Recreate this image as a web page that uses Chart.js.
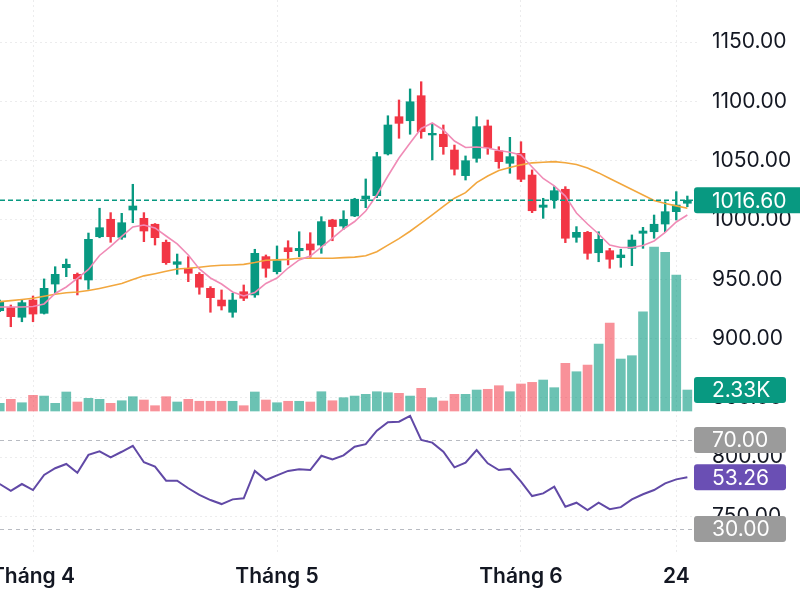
<!DOCTYPE html>
<html><head><meta charset="utf-8">
<script src="https://cdn.jsdelivr.net/npm/chart.js@4.4.1/dist/chart.umd.min.js"></script>
<style>html,body{margin:0;padding:0;background:#fff;}canvas{display:block}</style>
</head><body>
<canvas id="c" width="800" height="600"></canvas>
<script>
const openP = [923.5,926.1,918.0,932.5,921.3,946.0,959.8,954.2,949.4,985.9,
1000.6,985.4,1008.4,1001.4,996.4,981.2,962.6,959.3,954.2,942.4,
932.5,922.2,939.5,936.8,969.1,956.4,976.6,974.1,979.8,978.9,
1000.0,994.9,1003.4,1017.7,1020.5,1055.7,1087.1,1083.7,1104.8,1071.7,
1072.3,1059.0,1037.4,1052.0,1079.3,1058.2,1047.8,1056.2,1037.9,1010.7,
1016.9,1025.9,985.4,989.6,972.4,974.1,968.2,976.1,988.8,990.1,
996.6,1007.0,1014.1];
const highP = [932.5,928.3,932.5,935.9,950.3,960.6,967.1,955.3,989.0,1009.9,
1006.2,1005.6,1030.1,1006.2,997.0,983.1,971.3,969.1,955.6,943.8,
941.0,938.2,945.2,975.3,970.5,978.1,982.5,990.1,989.3,1002.8,
1000.6,1007.8,1018.3,1034.6,1057.1,1087.9,1101.2,1110.5,1116.6,1081.5,
1080.1,1063.2,1054.0,1087.1,1084.3,1061.8,1069.7,1066.0,1042.2,1018.3,
1028.1,1028.1,994.4,990.4,990.1,976.1,975.3,987.4,993.8,1004.2,
1015.4,1023.9,1020.2];
const lowP = [922.7,910.0,914.2,914.2,920.7,938.2,952.2,936.8,941.6,985.0,
981.2,983.7,997.7,981.7,978.9,962.6,954.2,948.0,937.4,922.2,
924.1,918.0,932.0,934.8,951.7,954.5,962.1,969.1,968.5,971.9,
982.5,992.2,1002.8,1010.4,1018.8,1054.8,1068.9,1072.3,1068.9,1050.6,
1055.4,1037.9,1033.7,1048.7,1055.4,1043.6,1039.4,1032.3,1006.2,1001.4,
1009.9,980.9,981.2,966.9,964.8,959.3,960.1,961.5,976.1,984.6,
990.1,1000.0,1011.2];
const closeP = [931.1,918.5,930.3,920.7,942.4,954.2,962.6,950.3,983.7,993.5,
985.9,997.7,1011.8,990.7,985.1,964.0,964.8,955.1,943.3,934.5,
927.5,932.5,934.0,971.9,959.3,965.7,973.3,976.1,974.7,998.6,
994.4,1000.6,1017.5,1020.2,1053.4,1080.1,1081.5,1099.7,1074.5,1073.1,
1061.8,1042.8,1050.0,1078.7,1061.0,1049.2,1053.4,1034.3,1007.8,1012.6,
1024.7,984.6,989.6,971.9,983.7,966.9,970.5,983.1,990.7,996.4,
1007.0,1012.6,1016.6];
const volumeK = [0.85,1.30,0.92,1.74,1.66,0.85,2.11,1.00,1.41,1.30,
0.85,1.14,1.59,1.22,0.59,1.59,1.00,1.30,1.08,1.08,
1.08,1.08,0.59,2.11,1.22,0.92,1.08,1.08,1.00,2.14,
1.14,1.48,1.66,1.85,2.14,2.03,1.96,1.66,2.52,1.48,
1.11,1.85,1.85,2.33,2.41,2.81,2.14,3.00,3.18,3.44,
2.59,5.29,4.36,5.10,7.43,9.77,5.77,6.14,11.0,18.2,
17.6,15.1,2.33];
const maFast = [926.6,926.6,926.6,927.1,929.2,938.0,943.5,950.7,958.3,970.1,
977.7,986.1,994.1,995.8,993.3,986.5,979.8,970.5,958.7,951.1,
946.0,939.3,935.9,938.9,946.5,951.1,959.5,966.3,969.6,977.2,
984.8,992.4,998.7,1007.6,1021.1,1037.1,1052.3,1064.9,1077.2,1081.8,
1075.9,1066.6,1061.1,1061.6,1060.7,1058.6,1057.1,1054.8,1044.7,1035.0,
1028.7,1020.2,1005.9,996.6,988.2,978.9,976.8,976.8,978.5,982.3,
989.5,998.3,1004.2];
const maSlow = [931.1,932.0,933.0,934.0,935.7,937.4,938.7,939.3,940.5,942.3,
944.3,946.4,949.8,952.9,954.7,956.7,958.7,959.3,960.2,961.2,
961.8,962.1,962.6,964.2,966.1,966.4,966.8,967.7,967.7,967.7,
967.8,968.3,968.7,969.9,973.3,978.8,984.3,990.5,997.3,1004.3,
1011.4,1018.4,1023.1,1031.5,1037.1,1041.7,1044.3,1046.5,1048.2,1048.7,
1049.2,1048.3,1046.8,1043.8,1039.7,1035.0,1030.4,1025.7,1021.1,1016.5,
1013.9,1011.9,1009.9];
const rsiVals = [50.2,47.1,50.2,47.5,54.3,57.3,59.2,55.3,63.3,64.9,
62.2,64.7,67.4,60.0,58.0,51.7,51.7,48.3,45.3,43.0,
41.2,43.3,43.8,56.1,52.0,54.1,56.1,56.8,56.5,62.9,
61.3,63.1,67.0,68.1,74.2,78.0,78.2,80.8,70.0,68.8,
64.7,57.7,59.8,65.5,59.5,56.5,57.0,51.3,44.8,46.0,
49.0,40.0,41.8,38.5,41.8,38.9,39.8,43.3,45.6,47.5,
50.5,52.3,53.26];
const priceTicks = [750,800,850,900,950,1000,1050,1100,1150];
const xTickIndex = [3,25,47,61];
const xTickText = ['Tháng 4','Tháng 5','Tháng 6','24'];
const lastPrice = 1016.60;
const lastVolume = 2.33;
const rsiLevels = [70,30];

const UP='#089981', DOWN='#f23645';
const UPV='rgba(8,153,129,0.6)', DOWNV='rgba(242,54,69,0.55)';
const idx = openP.map((_,i)=>i);
const isUp = idx.map(i=>closeP[i]>=openP[i]);
const FONT='Inter, "Noto Sans", sans-serif';
const FS=21;

function rr(ctx,x,y,w,h,r){ctx.beginPath();ctx.moveTo(x+r,y);ctx.lineTo(x+w-r,y);ctx.quadraticCurveTo(x+w,y,x+w,y+r);ctx.lineTo(x+w,y+h-r);ctx.quadraticCurveTo(x+w,y+h,x+w-r,y+h);ctx.lineTo(x+r,y+h);ctx.quadraticCurveTo(x,y+h,x,y+h-r);ctx.lineTo(x,y+r);ctx.quadraticCurveTo(x,y,x+r,y);ctx.closePath();}

const overlay = {
  id:'overlay',
  beforeDatasetsDraw(chart){
    const {ctx, chartArea:a, scales} = chart;
    ctx.save();
    ctx.setLineDash([4,4]); ctx.strokeStyle='#b8bbc2'; ctx.lineWidth=1;
    rsiLevels.forEach(v=>{const y=Math.round(scales.yRsi.getPixelForValue(v))+0.5;ctx.beginPath();ctx.moveTo(a.left,y);ctx.lineTo(a.right-6,y);ctx.stroke();});
    ctx.restore();
  },
  afterDatasetsDraw(chart){
    const {ctx, chartArea:a, scales} = chart;
    ctx.save();
    ctx.setLineDash([5,3]); ctx.strokeStyle=UP; ctx.lineWidth=1.6;
    const py=scales.y.getPixelForValue(lastPrice);
    ctx.beginPath();ctx.moveTo(a.left,py);ctx.lineTo(a.right,py);ctx.stroke();
    ctx.restore();
  },
  afterDraw(chart){
    const {ctx, scales} = chart;
    const box=(yc,txt,col,right)=>{
      ctx.fillStyle=col; rr(ctx,694,yc-13,right-694,26,3); ctx.fill();
      ctx.fillStyle='#fff'; ctx.font=FS+'px '+FONT; ctx.textBaseline='middle'; ctx.textAlign='left';
      ctx.fillText(txt,712,yc+1);
    };
    ctx.save();
    box(scales.y.getPixelForValue(lastPrice), lastPrice.toFixed(2), UP, 804);
    box(scales.yVol.getPixelForValue(lastVolume), lastVolume.toFixed(2)+'K', UP, 786);
    box(scales.yRsi.getPixelForValue(rsiLevels[0]), rsiLevels[0].toFixed(2), '#9b9b9b', 786);
    box(scales.yRsi.getPixelForValue(rsiVals[rsiVals.length-1]), rsiVals[rsiVals.length-1].toFixed(2), '#6a4fb4', 786);
    box(scales.yRsi.getPixelForValue(rsiLevels[1]), rsiLevels[1].toFixed(2), '#9b9b9b', 786);
    ctx.restore();
  }
};

const gridCol='rgba(42,46,57,0.09)';
new Chart(document.getElementById('c'), {
  type:'bar',
  data:{datasets:[
    {type:'line', data:idx.map(i=>({x:i,y:maFast[i]})), yAxisID:'y', borderColor:'#f08bb6', borderWidth:1.6, pointRadius:0, tension:0, order:0},
    {type:'line', data:idx.map(i=>({x:i,y:maSlow[i]})), yAxisID:'y', borderColor:'#f2a73e', borderWidth:1.6, pointRadius:0, tension:0, order:0},
    {type:'line', data:idx.map(i=>({x:i,y:rsiVals[i]})), yAxisID:'yRsi', borderColor:'#6149a6', borderWidth:2, pointRadius:0, tension:0, order:0},
    {type:'bar', data:idx.map(i=>({x:i,y:[Math.min(openP[i],closeP[i]),Math.max(openP[i],closeP[i])]})), yAxisID:'y', backgroundColor:idx.map(i=>isUp[i]?UP:DOWN), barThickness:8, grouped:false, borderWidth:0, order:1},
    {type:'bar', data:idx.map(i=>({x:i,y:[lowP[i],highP[i]]})), yAxisID:'y', backgroundColor:idx.map(i=>isUp[i]?UP:DOWN), barThickness:1.7, grouped:false, borderWidth:0, order:2},
    {type:'bar', data:idx.map(i=>({x:i,y:volumeK[i]})), yAxisID:'yVol', backgroundColor:idx.map(i=>isUp[i]?UPV:DOWNV), barThickness:9, grouped:false, borderWidth:0, order:3}
  ]},
  options:{
    responsive:false, animation:false, devicePixelRatio:1,
    layout:{padding:0, autoPadding:false},
    plugins:{legend:{display:false}, tooltip:{enabled:false}},
    scales:{
      x:{type:'linear', min:0.024, max:63.14, offset:false,
        grid:{color:gridCol, drawTicks:false, offset:false},
        border:{display:false, dash:[2,3]},
        ticks:{autoSkip:false, maxRotation:0, padding:11, color:'#131722', font:{family:FONT,size:FS,weight:'600'},
          callback:(v)=>{const k=xTickIndex.indexOf(v);return k>=0?xTickText[k]:'';}},
        afterBuildTicks:(s)=>{s.ticks=xTickIndex.map(v=>({value:v}));},
        afterFit:(s)=>{s.height=47;s.paddingLeft=0;s.paddingRight=0;}
      },
      y:{position:'right', min:719.2, max:1185.5,
        grid:{color:gridCol, drawTicks:false},
        border:{display:false, dash:[2,3]},
        ticks:{padding:12, color:'#131722', font:{family:FONT,size:FS}, callback:(v)=>Number(v).toFixed(2)},
        afterBuildTicks:(s)=>{s.ticks=priceTicks.map(v=>({value:v}));},
        afterFit:(s)=>{s.width=100;s.paddingTop=0;s.paddingBottom=0;}
      },
      yVol:{display:false, min:-15.76, max:45.62},
      yRsi:{display:false, min:19.2, max:267.75}
    }
  },
  plugins:[overlay]
});
</script>
</body></html>
